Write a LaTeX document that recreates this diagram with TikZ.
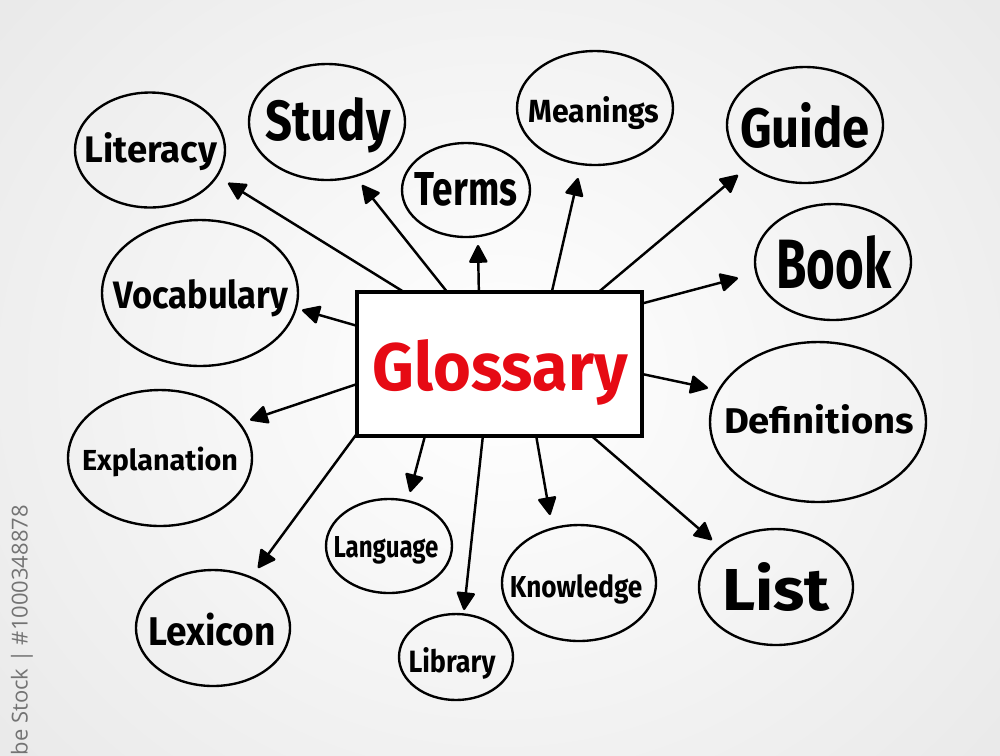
\documentclass[tikz,border=0pt]{standalone}
\usepackage{fontspec}
\usepackage{graphicx}
\setmainfont{Fira Sans}
\newfontfamily\wmfont{Open Sans}
\usetikzlibrary{shapes.geometric,arrows.meta}
\newcommand\fitword[3]{\resizebox{#1}{#2}{\bfseries #3}}
\begin{document}
\begin{tikzpicture}[x=0.02cm,y=-0.02cm,
  bubble/.style={draw=black, line width=1.35pt, ellipse, inner sep=0pt, outer sep=0pt},
  word/.style={anchor=base, inner sep=0pt, outer sep=0pt},
  central/.style={draw=black, line width=1.8pt, rectangle, inner sep=0pt, outer sep=0pt, fill=white},
  link/.style={draw=black, line width=1.4pt, line cap=round,
     -{Triangle[length=11pt,width=11pt,round]}}]
\useasboundingbox (0,0) rectangle (1000,755);
\shade[inner color=white, outer color=black!9] (-200,-250) rectangle (1200,1005);
% watermark
\node[rotate=90, anchor=east, inner sep=0pt, text=black!55, font=\wmfont\fontsize{12.5}{14}\selectfont] (wm) at (22,505) {Adobe Stock | \#1000348878};
% central
\node[central, minimum width=5.7cm, minimum height=2.88cm] (g) at (499.5,364) {};
\node[word, text={rgb,255:red,230;green,10;blue,20}] (glossary) at (500,390) {\fitword{5.1cm}{1.02cm}{Glossary}};
% bubbles
\node[bubble, minimum width=3.0cm, minimum height=2.3cm] (literacyE) at (150,150) {};
\node[bubble, minimum width=3.12cm, minimum height=2.32cm] (studyE) at (327,122) {};
\node[bubble, minimum width=2.56cm, minimum height=1.88cm] (termsE) at (466,190) {};
\node[bubble, minimum width=3.12cm, minimum height=2.28cm] (meaningsE) at (595,108) {};
\node[bubble, minimum width=3.12cm, minimum height=2.32cm] (guideE) at (805,125) {};
\node[bubble, minimum width=3.12cm, minimum height=2.32cm] (bookE) at (833,262) {};
\node[bubble, minimum width=3.92cm, minimum height=2.92cm] (vocabularyE) at (200,293) {};
\node[bubble, minimum width=4.32cm, minimum height=3.2cm] (definitionsE) at (818,422) {};
\node[bubble, minimum width=3.68cm, minimum height=2.72cm] (explanationE) at (160,458) {};
\node[bubble, minimum width=3.08cm, minimum height=2.32cm] (lexiconE) at (213,628) {};
\node[bubble, minimum width=2.52cm, minimum height=1.88cm] (languageE) at (389,546) {};
\node[bubble, minimum width=2.28cm, minimum height=1.72cm] (libraryE) at (456,657) {};
\node[bubble, minimum width=3.08cm, minimum height=2.32cm] (knowledgeE) at (579,583) {};
\node[bubble, minimum width=3.08cm, minimum height=2.32cm] (listE) at (776,587) {};
% words
\node[word] (literacy) at (151,162) {\fitword{2.65cm}{0.6cm}{Literacy}};
\node[word] (study) at (328,140) {\fitword{2.5cm}{0.86cm}{Study}};
\node[word] (terms) at (466,205) {\fitword{2.05cm}{0.66cm}{Terms}};
\node[word] (meanings) at (594,122) {\fitword{2.62cm}{0.52cm}{Meanings}};
\node[word] (guide) at (805,147) {\fitword{2.6cm}{0.9cm}{Guide}};
\node[word] (book) at (834,288) {\fitword{2.3cm}{1.06cm}{Book}};
\node[word] (vocabulary) at (201,308) {\fitword{3.5cm}{0.58cm}{Vocabulary}};
\node[word] (definitions) at (819,433) {\fitword{3.8cm}{0.58cm}{Definitions}};
\node[word] (explanation) at (160,470) {\fitword{3.12cm}{0.47cm}{Explanation}};
\node[word] (lexicon) at (212,645) {\fitword{2.55cm}{0.65cm}{Lexicon}};
\node[word] (language) at (386,557) {\fitword{2.1cm}{0.42cm}{Language}};
\node[word] (library) at (452,672) {\fitword{1.74cm}{0.5cm}{Library}};
\node[word] (knowledge) at (576,597) {\fitword{2.65cm}{0.46cm}{Knowledge}};
\node[word] (list) at (776,610) {\fitword{2.15cm}{0.96cm}{List}};
% arrow tips
\coordinate (tLiteracy) at (228,183);
\coordinate (tStudy) at (362,185);
\coordinate (tTerms) at (478,245);
\coordinate (tMeanings) at (578,178);
\coordinate (tGuide) at (738,175);
\coordinate (tBook) at (738,278);
\coordinate (tVocabulary) at (302,310);
\coordinate (tDefinitions) at (708,388);
\coordinate (tExplanation) at (250,420);
\coordinate (tLexicon) at (258,568);
\coordinate (tLanguage) at (410,492);
\coordinate (tLibrary) at (464,610);
\coordinate (tKnowledge) at (550,515);
\coordinate (tList) at (712,540);
% connectors
\draw[link] (g.143) -- (tLiteracy);
\draw[link] (g.126.1) -- (tStudy);
\draw[link] (g.106.6) -- (tTerms);
\draw[link] (g.54.9) -- (tMeanings);
\draw[link] (g.36.2) -- (tGuide);
\draw[link] (g.23.5) -- (tBook);
\draw[link] (g.165.4) -- (tVocabulary);
\draw[link] (g.-4.4) -- (tDefinitions);
\draw[link] (g.188.8) -- (tExplanation);
\draw[link] (g.206.8) -- (tLexicon);
\draw[link] (g.224) -- (tLanguage);
\draw[link] (g.257.9) -- (tLibrary);
\draw[link] (g.-63.7) -- (tKnowledge);
\draw[link] (g.-38.5) -- (tList);
\end{tikzpicture}
\end{document}
